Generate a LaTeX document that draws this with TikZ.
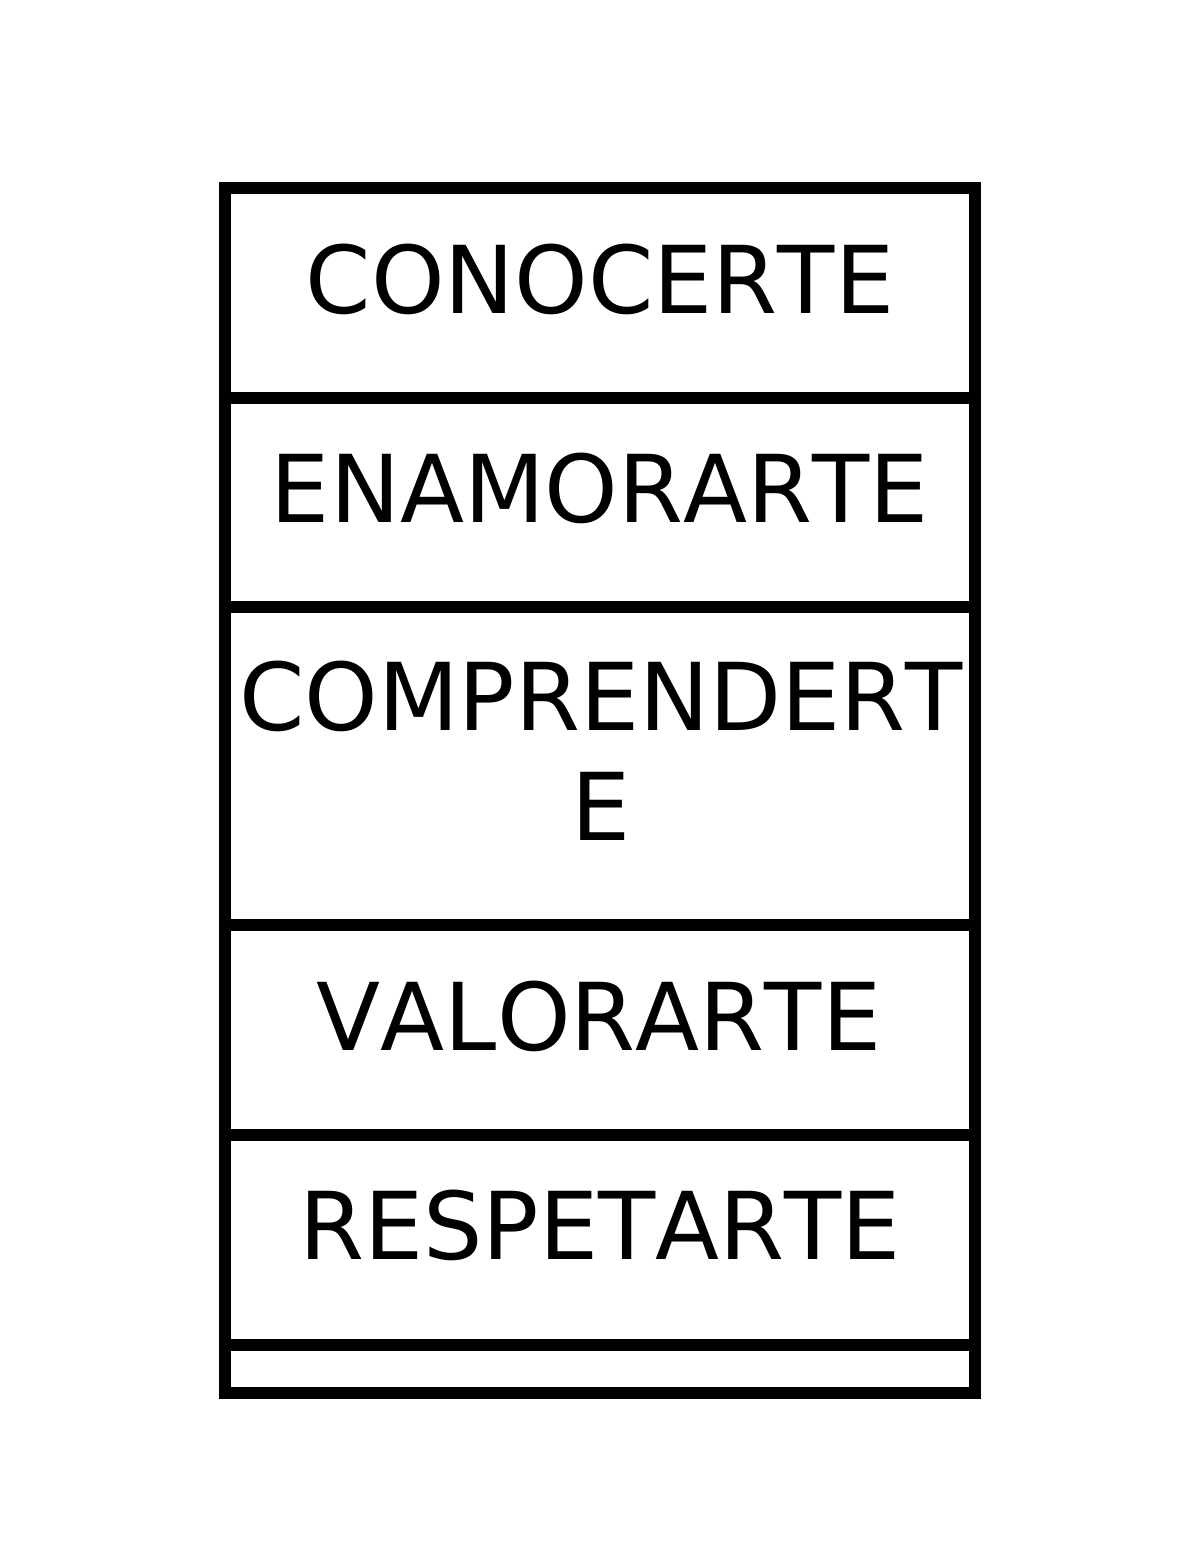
\documentclass[tikz,border=0pt]{standalone}
\usepackage{fontspec}
\setmainfont{DejaVu Sans}[Kerning=Off]
\begin{document}
\begin{tikzpicture}[x=0.5pt,y=-0.5pt,
  frame/.style={line width=6pt,draw=black},
  label/.style={anchor=base,inner sep=0pt,font=\fontsize{46.8pt}{55pt}\selectfont}]
\useasboundingbox (0,0) rectangle (1200,1553);
\fill[white] (0,0) rectangle (1200,1553);
\draw[frame] (225,188) rectangle (975,1393);
\foreach \yy in {397.5,607,925,1135,1345}
  \draw[frame] (225,\yy) -- (975,\yy);
\node[label] (t1) at (600,313) {CONOCERTE};
\node[label] (t2) at (600,522) {ENAMORARTE};
\node[label] (t3a) at (601,730) {COMPRENDERT};
\node[label] (t3b) at (601,840) {E};
\node[label] (t4) at (599,1050) {VALORARTE};
\node[label] (t5) at (600,1259) {RESPETARTE};
\end{tikzpicture}
\end{document}
